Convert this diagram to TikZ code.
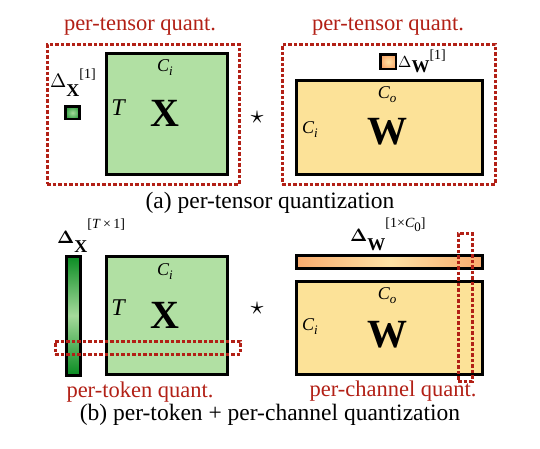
\documentclass[tikz,border=0pt]{standalone}
\usepackage[no-math]{fontspec}
\setmainfont{Liberation Serif}
\usepackage{graphicx}
\usetikzlibrary{positioning}
\definecolor{xgreen}{RGB}{177,224,163}
\definecolor{lgreen}{RGB}{165,218,155}
\definecolor{dgreen}{RGB}{10,140,35}
\definecolor{worange}{RGB}{252,226,152}
\definecolor{lorange}{RGB}{253,226,165}
\definecolor{dorange}{RGB}{250,172,110}
\definecolor{qred}{RGB}{178,32,22}
\tikzset{
	matnode/.style={rectangle, draw=black, line width=3pt, inner sep=0pt, anchor=north west},
	quantbox/.style={rectangle, draw=qred, line width=3pt, dash pattern=on 3.5pt off 2pt, inner sep=0pt, anchor=north west},
	redlabel/.style={text=qred, font=\fontsize{22.5}{24}\selectfont},
	caplabel/.style={font=\fontsize{23.5}{25}\selectfont},
	dimlabel/.style={font=\fontsize{18}{20}\selectfont\itshape},
	matlabel/.style={font=\fontsize{40}{42}\selectfont\bfseries},
	deltalabel/.style={anchor=base west, inner sep=0pt}
}
\newcommand{\dimsub}[2]{#1\raisebox{-4pt}{\fontsize{13}{13}\selectfont #2}}
\newcommand{\qdelta}[5]{#1\raisebox{-#4pt}{\fontsize{18}{18}\selectfont\bfseries #2}\raisebox{#5pt}{\fontsize{14}{14}\selectfont #3}}

\begin{document}
\begin{tikzpicture}[x=1pt, y=-1pt]
		\useasboundingbox (0,0) rectangle (540,449);
		% (a) per-tensor
		\node[matnode, fill=xgreen, minimum width=121pt, minimum height=120pt] at (104.5,52.5) (Xa) {};
		\node[matnode, line width=2.5pt, inner color=lgreen, outer color=dgreen!70!lgreen, minimum width=14pt, minimum height=12.5pt] at (64.25,105.25) (dXa) {};
		\node[matnode, fill=worange, minimum width=186pt, minimum height=93pt] at (294.5,79.5) (Wa) {};
		\node[matnode, line width=2.5pt, inner color=lorange, outer color=dorange, minimum width=15.5pt, minimum height=14.5pt] at (379.25,53.25) (dWa) {};
		\node[quantbox, minimum width=192pt, minimum height=139pt] at (45.5,43.5) (qXa) {};
		\node[quantbox, minimum width=213pt, minimum height=139pt] at (280.5,43.5) (qWa) {};
		
		\node[redlabel] at (140,27) (lXa) {per-tensor quant.};
		\node[redlabel] at (388,27) (lWa) {per-tensor quant.};
		\node[deltalabel] at (50,88) (tXa) {\qdelta{\scalebox{1.95}{$\Delta$}}{X}{[1]}{9}{9.5}};
		\node[deltalabel] at (398,68) (tWa) {\qdelta{\scalebox{1.6}{$\Delta$}}{W}{[1]}{5}{8}};
		\node[dimlabel] at (165,68) (ciXa) {\dimsub{C}{i}};
		\node[dimlabel, font=\fontsize{24}{24}\selectfont\itshape] at (118,108) (tTa) {T};
		\node[matlabel] at (165,113) (nXa) {X};
		\node[dimlabel] at (387,95) (coWa) {\dimsub{C}{o}};
		\node[dimlabel] at (310,130) (ciWa) {\dimsub{C}{i}};
		\node[matlabel] at (387,132) (nWa) {W};
		\node at (257,117) (sa) {\scalebox{2.6}{$\star$}};
		\node[caplabel] at (270,203) (capa) {(a) per-tensor quantization};
		
		% (b) per-token + per-channel
		\node[matnode, fill=xgreen, minimum width=121pt, minimum height=118pt] at (104.5,254.5) (Xb) {};
		\node[matnode, top color=dgreen, bottom color=dgreen, middle color=lgreen, minimum width=14pt, minimum height=119pt] at (64.5,254.5) (dXb) {};
		\node[matnode, fill=worange, minimum width=186pt, minimum height=93pt] at (294.5,279.5) (Wb) {};
		\node[matnode, left color=dorange, right color=dorange, middle color=lorange, minimum width=186pt, minimum height=13pt] at (294.5,253.5) (dWb) {};
		\node[quantbox, minimum width=185pt, minimum height=13pt] at (53.5,339.5) (qXb) {};
		\node[quantbox, minimum width=14pt, minimum height=148pt] at (456.5,231.5) (qWb) {};
		
		\node[deltalabel] at (57,243) (tXb) {\qdelta{\scalebox{1.8}{\boldmath$\Delta$}}{X}{[\textit{T}\,×\,1]}{9}{15}};
		\node[deltalabel] at (350,241) (tWb) {\qdelta{\scalebox{1.8}{\boldmath$\Delta$}}{W}{[1×\dimsub{\textit{C}}{0}]}{9}{14}};
		\node[dimlabel] at (165,272) (ciXb) {\dimsub{C}{i}};
		\node[dimlabel, font=\fontsize{24}{24}\selectfont\itshape] at (118,308) (tTb) {T};
		\node[matlabel] at (165,315) (nXb) {X};
		\node[dimlabel] at (387,296) (coWb) {\dimsub{C}{o}};
		\node[dimlabel] at (310,327) (ciWb) {\dimsub{C}{i}};
		\node[matlabel] at (387,335) (nWb) {W};
		\node at (257,308) (sb) {\scalebox{2.6}{$\star$}};
		\node[redlabel] at (140,392) (lXb) {per-token quant.};
		\node[redlabel] at (393,391) (lWb) {per-channel quant.};
		\node[caplabel] at (270,415) (capb) {(b) per-token + per-channel quantization};
	\end{tikzpicture}
\end{document}
